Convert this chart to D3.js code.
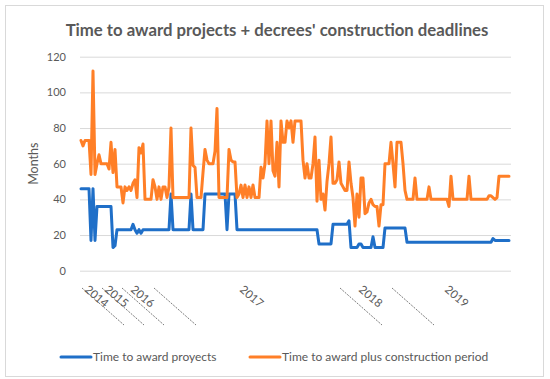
<!DOCTYPE html>
<html>
<head>
<meta charset="utf-8">
<script src="https://cdnjs.cloudflare.com/ajax/libs/d3/7.8.5/d3.min.js"></script>
<style>
  body { margin: 0; background: #fff; }
  svg text { font-family: Lato, "Open Sans", sans-serif; fill: #595959; }
</style>
</head>
<body>
<div id="chart"></div>
<script>
// Year groups on the category axis (number of projects per year)
const yearLabels = ['2014', '2015', '2016', '2017', '2018', '2019'];
const yearCounts = [10, 10, 16, 93, 26, 60];

// Months, one value per project
const awardMonths = [
	46, 46, 46, 46, 46, 17, 46, 17, 36, 36,
	36, 36, 36, 36, 36, 36, 13, 14, 23, 23,
	23, 23, 23, 23, 23, 23, 26, 23, 21, 23,
	21, 23, 23, 23, 23, 23, 23, 23, 23, 23,
	23, 23, 23, 23, 23, 43, 23, 23, 23, 23,
	23, 23, 23, 23, 23, 43, 23, 23, 23, 23,
	23, 23, 43, 43, 43, 43, 43, 43, 43, 43,
	43, 43, 43, 23, 43, 43, 43, 43, 23, 23,
	23, 23, 23, 23, 23, 23, 23, 23, 23, 23,
	23, 23, 23, 23, 23, 23, 23, 23, 23, 23,
	23, 23, 23, 23, 23, 23, 23, 23, 23, 23,
	23, 23, 23, 23, 23, 23, 23, 23, 23, 15,
	15, 15, 15, 15, 15, 15, 26, 26, 26, 26,
	26, 26, 26, 26, 28, 13, 13, 13, 13, 15,
	15, 13, 13, 13, 13, 13, 19, 13, 13, 13,
	13, 13, 24, 24, 24, 24, 24, 24, 24, 24,
	24, 24, 24, 16, 16, 16, 16, 16, 16, 16,
	16, 16, 16, 16, 16, 16, 16, 16, 16, 16,
	16, 16, 16, 16, 16, 16, 16, 16, 16, 16,
	16, 16, 16, 16, 16, 16, 16, 16, 16, 16,
	16, 16, 16, 16, 16, 16, 18, 17, 17, 17,
	17, 17, 17, 17, 17,
];
const awardPlusBuildMonths = [
	73, 70, 73, 73, 73, 54, 112, 54, 60, 65,
	60, 60, 60, 60, 57, 72, 55, 68, 47, 47,
	47, 38, 47, 45, 47, 45, 49, 51, 41, 69,
	66, 71, 40, 40, 40, 40, 51, 47, 40, 47,
	40, 47, 47, 41, 47, 80, 41, 41, 41, 41,
	41, 41, 41, 41, 41, 80, 59, 58, 41, 41,
	41, 55, 68, 62, 60, 60, 60, 67, 91, 41,
	41, 41, 41, 41, 68, 62, 61, 61, 41, 43,
	48, 41, 48, 41, 47, 41, 48, 41, 41, 41,
	58, 52, 60, 84, 60, 84, 56, 53, 72, 47,
	84, 72, 72, 84, 80, 84, 72, 84, 84, 84,
	84, 62, 52, 60, 52, 52, 60, 75, 39, 62,
	40, 43, 34, 50, 60, 75, 49, 49, 51, 61,
	49, 47, 45, 45, 61, 49, 41, 25, 43, 30,
	52, 52, 32, 33, 38, 40, 37, 36, 36, 25,
	37, 37, 60, 60, 60, 72, 60, 47, 72, 72,
	72, 60, 45, 40, 40, 40, 40, 52, 40, 40,
	40, 40, 40, 40, 47, 40, 40, 40, 40, 40,
	40, 40, 40, 40, 36, 53, 40, 40, 40, 40,
	40, 40, 40, 40, 53, 40, 40, 40, 40, 40,
	40, 40, 40, 40, 42, 42, 41, 40, 41, 53,
	53, 53, 53, 53, 53,
];

const yTicks = [0, 20, 40, 60, 80, 100, 120];
const seriesNames = ['Time to award proyects', 'Time to award plus construction period'];
const seriesColors = ['#1f6fc8', '#ff7f27'];

const width = 550;
const height = 379;
const plot = { left: 80, right: 510, top: 56.7, bottom: 270.7 };

const svg = d3.select('#chart')
	.append('svg')
	.attr('width', width)
	.attr('height', height);

// Chart border
svg.append('rect')
	.attr('x', 5.5)
	.attr('y', 5.5)
	.attr('width', 538)
	.attr('height', 371)
	.attr('fill', '#fff')
	.attr('stroke', '#d9d9d9');

// Title, fitted to the width it has in the reference
const title = svg.append('text')
	.attr('x', 277)
	.attr('y', 36)
	.attr('text-anchor', 'middle')
	.attr('font-weight', 700)
	.attr('font-size', 16)
	.text("Time to award projects + decrees' construction deadlines");
const tw = title.node().getComputedTextLength();
title.attr('font-size', 16 * 423 / tw);

// Scales
const projectIndex = d3.range(awardMonths.length);
const x = d3.scaleBand()
	.domain(projectIndex)
	.range([plot.left, plot.right]);
const y = d3.scaleLinear()
	.domain([0, 120])
	.range([plot.bottom, plot.top]);

// Gridlines + y tick labels
const yAxis = svg.append('g')
	.attr('transform', `translate(${plot.left},0)`)
	.call(d3.axisLeft(y)
		.tickValues(yTicks)
		.tickSizeInner(-(plot.right - plot.left + 1))
		.tickSizeOuter(0)
		.tickPadding(14));
yAxis.select('.domain').remove();
yAxis.selectAll('line').attr('stroke', '#d9d9d9').attr('stroke-width', 1);
yAxis.selectAll('text')
	.attr('font-size', 11)
	.attr('font-family', 'Lato, sans-serif')
	.attr('fill', '#595959');

svg.append('text')
	.attr('transform', `translate(38,${(plot.top + plot.bottom) / 2}) rotate(-90)`)
	.attr('text-anchor', 'middle')
	.attr('font-size', 12.5)
	.text('Months');

// Year groups: separators and rotated labels
let start = 0;
const groups = yearLabels.map((label, k) => {
	const g = { label, from: start, to: start + yearCounts[k] };
	start += yearCounts[k];
	return g;
});
const bandEdge = (i) => (i < projectIndex.length ? x(i) : plot.right);

svg.selectAll('line.sep')
	.data(groups)
	.join('line')
	.attr('class', 'sep')
	.attr('x1', (d) => bandEdge(d.from) + 2)
	.attr('y1', 288)
	.attr('x2', (d) => bandEdge(d.from) + 44)
	.attr('y2', 325)
	.attr('stroke', '#404040')
	.attr('stroke-width', 0.7)
	.attr('stroke-dasharray', '2,1.2');

svg.selectAll('text.year')
	.data(groups)
	.join('text')
	.attr('class', 'year')
	.attr('transform', (d) => {
		const cx = (bandEdge(d.from) + bandEdge(d.to)) / 2 + 7;
		return `translate(${cx},296) rotate(40)`;
	})
	.attr('text-anchor', 'middle')
	.attr('dominant-baseline', 'central')
	.attr('font-size', 11.5)
	.text((d) => d.label);

// Series lines
const line = d3.line()
	.x((d, i) => x(i) + x.bandwidth() / 2)
	.y((d) => y(d));

svg.selectAll('path.series')
	.data([awardMonths, awardPlusBuildMonths])
	.join('path')
	.attr('class', 'series')
	.attr('d', line)
	.attr('fill', 'none')
	.attr('stroke', (d, k) => seriesColors[k])
	.attr('stroke-width', 3)
	.attr('stroke-linejoin', 'round')
	.attr('stroke-linecap', 'round');

// Legend
const legendX = [61, 250];
const legend = svg.selectAll('g.legend')
	.data(seriesNames)
	.join('g')
	.attr('class', 'legend')
	.attr('transform', (d, k) => `translate(${legendX[k]},357)`);
legend.append('line')
	.attr('x1', 0)
	.attr('x2', 30)
	.attr('stroke', (d, k) => seriesColors[k])
	.attr('stroke-width', 3)
	.attr('stroke-linecap', 'round');
legend.append('text')
	.attr('x', 32)
	.attr('dy', '0.35em')
	.attr('font-size', 12)
	.text((d) => d);
</script>
</body>
</html>
